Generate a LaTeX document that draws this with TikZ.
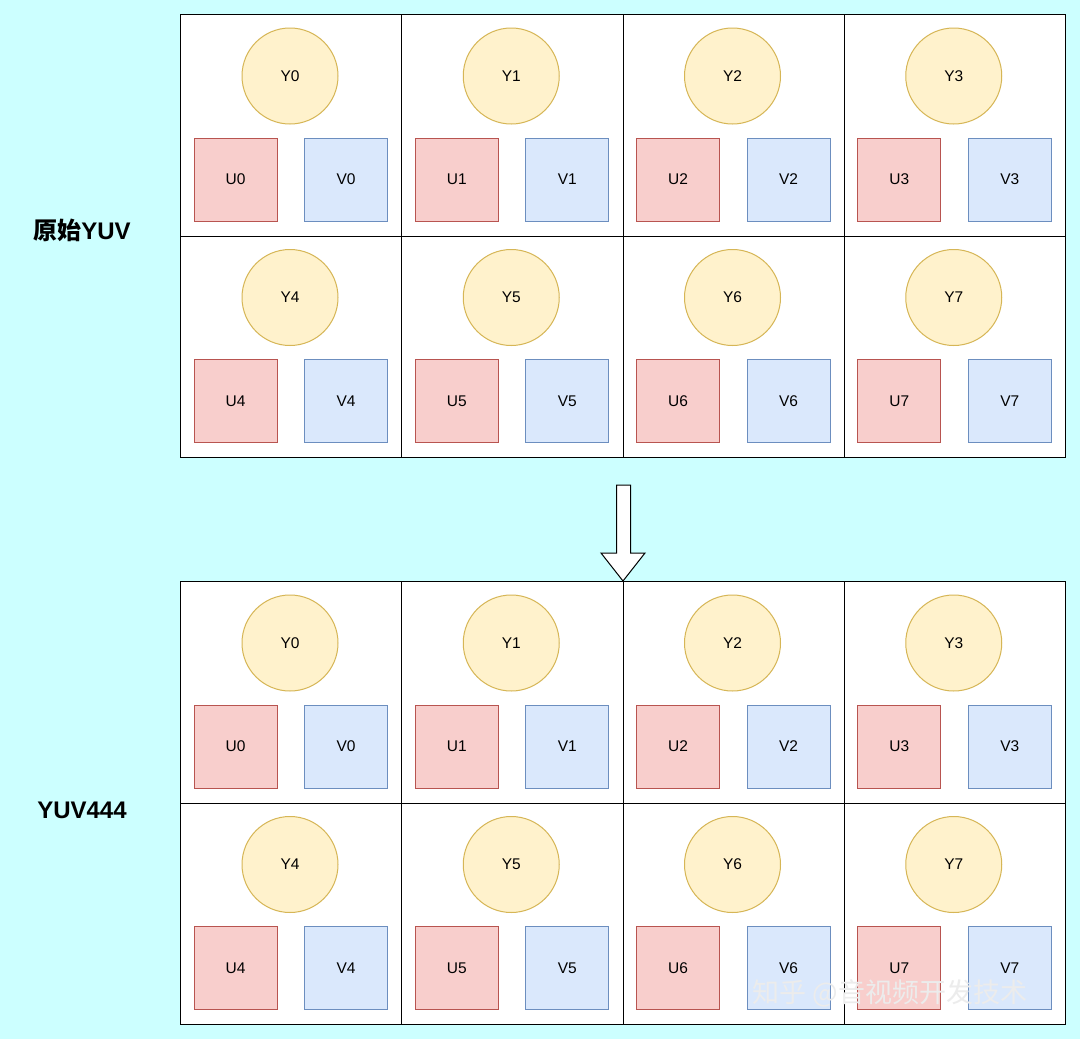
\documentclass[tikz,border=0pt]{standalone}
\usepackage{fontspec}
\setmainfont{Liberation Sans}
\newfontfamily\cjk{Noto Sans CJK SC}
\definecolor{bg}{HTML}{CCFFFF}
\definecolor{ufill}{HTML}{F8CECC}\definecolor{udraw}{HTML}{B85450}
\definecolor{vfill}{HTML}{DAE8FC}\definecolor{vdraw}{HTML}{6C8EBF}
\definecolor{yfill}{HTML}{FFF2CC}\definecolor{ydraw}{HTML}{D6B656}
\tikzset{
 cell/.style={draw=black,fill=white,minimum width=221.25pt,minimum height=221.5pt,inner sep=0,anchor=north west,line width=1pt},
 ynode/.style={circle,draw=ydraw,fill=yfill,minimum size=96pt,inner sep=0,line width=1pt,font=\fontsize{15.5}{18}\selectfont},
 unode/.style={draw=udraw,fill=ufill,minimum size=83pt,inner sep=0,line width=1pt,font=\fontsize{15.5}{18}\selectfont},
 vnode/.style={draw=vdraw,fill=vfill,minimum size=83pt,inner sep=0,line width=1pt,font=\fontsize{15.5}{18}\selectfont},
 lbl/.style={font=\bfseries\fontsize{24}{28}\selectfont}
}
\begin{document}
\begin{tikzpicture}[x=1pt,y=-1pt]
\fill[bg] (0,0) rectangle (1080,1039);
\useasboundingbox (0,0) rectangle (1080,1039);
\foreach \g/\gy in {a/14,b/581}{
 \foreach \r in {0,1}{
  \foreach \c in {0,...,3}{
   \pgfmathsetmacro\cx{180+221.25*\c}
   \pgfmathsetmacro\cy{\gy+221.5*\r}
   \pgfmathtruncatemacro\k{4*\r+\c}
   \node[cell] (cell-\g\k) at (\cx,\cy) {};
   \node[ynode] (y-\g\k) at (\cx+110,\cy+62) {Y\k};
   \node[unode] (u-\g\k) at (\cx+55.5,\cy+165.5) {U\k};
   \node[vnode] (v-\g\k) at (\cx+166,\cy+165.5) {V\k};
  }
 }
}
\node[lbl] (l1) at (82,230) {{\cjk\bfseries 原始}YUV};
\node[lbl] (l2) at (82,810) {YUV444};
\draw[fill=white,line width=1pt] (616.5,485) -- (630.5,485) -- (630.5,553) -- (645,553) -- (623,581) -- (601,553) -- (616.5,553) -- cycle;
\node[font=\cjk\fontsize{27}{30}\selectfont,text=white!85!gray] (wm) at (890,993) {知乎 @音视频开发技术};
\end{tikzpicture}
\end{document}
